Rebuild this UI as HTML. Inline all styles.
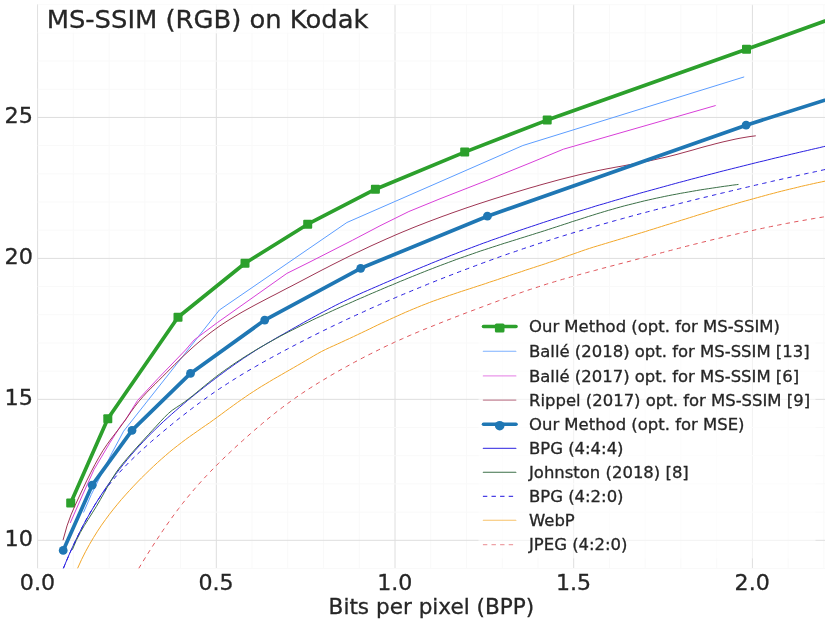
<!DOCTYPE html>
<html lang="en"><head><meta charset="utf-8"><title>MS-SSIM (RGB) on Kodak</title>
<style>
html,body{margin:0;padding:0;background:#fff;}
body{width:830px;height:624px;overflow:hidden;}
svg{display:block;}
text{font-family:"DejaVu Sans","Liberation Sans",sans-serif;fill:#262626;stroke:#262626;stroke-width:0.3px;}
.thin{fill:none;stroke-width:1.0;stroke-linejoin:round;}
.thick{fill:none;stroke-width:3.7;stroke-linejoin:round;stroke-linecap:butt;}
</style></head><body>
<svg width="830" height="624" viewBox="0 0 830 624">
<rect width="830" height="624" fill="#ffffff"/>
<defs><clipPath id="ax"><rect x="37.6" y="4.2" width="787.4" height="564.2"/></clipPath></defs>

<g fill="none" stroke-width="1">
<path stroke="#dedede" d="M37.60,4.2 V568.4"/>
<path stroke="#dedede" d="M216.30,4.2 V568.4"/>
<path stroke="#dedede" d="M395.00,4.2 V568.4"/>
<path stroke="#dedede" d="M573.70,4.2 V568.4"/>
<path stroke="#dedede" d="M752.40,4.2 V568.4"/>
<path stroke="#f9f9f9" d="M73.34,4.2 V568.4"/>
<path stroke="#f9f9f9" d="M109.08,4.2 V568.4"/>
<path stroke="#f9f9f9" d="M144.82,4.2 V568.4"/>
<path stroke="#f9f9f9" d="M180.56,4.2 V568.4"/>
<path stroke="#f9f9f9" d="M252.04,4.2 V568.4"/>
<path stroke="#f9f9f9" d="M287.78,4.2 V568.4"/>
<path stroke="#f9f9f9" d="M323.52,4.2 V568.4"/>
<path stroke="#f9f9f9" d="M359.26,4.2 V568.4"/>
<path stroke="#f9f9f9" d="M430.74,4.2 V568.4"/>
<path stroke="#f9f9f9" d="M466.48,4.2 V568.4"/>
<path stroke="#f9f9f9" d="M502.22,4.2 V568.4"/>
<path stroke="#f9f9f9" d="M537.96,4.2 V568.4"/>
<path stroke="#f9f9f9" d="M609.44,4.2 V568.4"/>
<path stroke="#f9f9f9" d="M645.18,4.2 V568.4"/>
<path stroke="#f9f9f9" d="M680.92,4.2 V568.4"/>
<path stroke="#f9f9f9" d="M716.66,4.2 V568.4"/>
<path stroke="#f9f9f9" d="M788.14,4.2 V568.4"/>
<path stroke="#f9f9f9" d="M823.88,4.2 V568.4"/>
<path stroke="#dedede" d="M37.6,540.30 H825.0"/>
<path stroke="#dedede" d="M37.6,399.35 H825.0"/>
<path stroke="#dedede" d="M37.6,258.40 H825.0"/>
<path stroke="#dedede" d="M37.6,117.45 H825.0"/>
<path stroke="#f9f9f9" d="M37.6,568.49 H825.0"/>
<path stroke="#f9f9f9" d="M37.6,512.11 H825.0"/>
<path stroke="#f9f9f9" d="M37.6,483.92 H825.0"/>
<path stroke="#f9f9f9" d="M37.6,455.73 H825.0"/>
<path stroke="#f9f9f9" d="M37.6,427.54 H825.0"/>
<path stroke="#f9f9f9" d="M37.6,371.16 H825.0"/>
<path stroke="#f9f9f9" d="M37.6,342.97 H825.0"/>
<path stroke="#f9f9f9" d="M37.6,314.78 H825.0"/>
<path stroke="#f9f9f9" d="M37.6,286.59 H825.0"/>
<path stroke="#f9f9f9" d="M37.6,230.21 H825.0"/>
<path stroke="#f9f9f9" d="M37.6,202.02 H825.0"/>
<path stroke="#f9f9f9" d="M37.6,173.83 H825.0"/>
<path stroke="#f9f9f9" d="M37.6,145.64 H825.0"/>
<path stroke="#f9f9f9" d="M37.6,89.26 H825.0"/>
<path stroke="#f9f9f9" d="M37.6,61.07 H825.0"/>
<path stroke="#f9f9f9" d="M37.6,32.88 H825.0"/>
<path stroke="#f9f9f9" d="M37.6,4.69 H825.0"/>
</g>
<g clip-path="url(#ax)">
<path class="thick" stroke="#2ca02c" d="M70.7,502.9 L107.8,418.7 L178.0,317.3 L245.0,263.2 L307.7,224.2 L375.4,189.2 L464.7,152.1 L547.2,120.1 L746.5,49.3 L840.0,15.7"/>
<rect x="66.2" y="498.4" width="9" height="9" rx="1" fill="#2ca02c"/>
<rect x="103.3" y="414.2" width="9" height="9" rx="1" fill="#2ca02c"/>
<rect x="173.5" y="312.8" width="9" height="9" rx="1" fill="#2ca02c"/>
<rect x="240.5" y="258.7" width="9" height="9" rx="1" fill="#2ca02c"/>
<rect x="303.2" y="219.7" width="9" height="9" rx="1" fill="#2ca02c"/>
<rect x="370.9" y="184.7" width="9" height="9" rx="1" fill="#2ca02c"/>
<rect x="460.2" y="147.6" width="9" height="9" rx="1" fill="#2ca02c"/>
<rect x="542.7" y="115.6" width="9" height="9" rx="1" fill="#2ca02c"/>
<rect x="742.0" y="44.8" width="9" height="9" rx="1" fill="#2ca02c"/>
<path class="thin" stroke="#5c9dff" d="M83.5,512.5 L91.3,494.5 L112.2,452.5 L123.6,431.2 L219.4,310.0 L346.9,222.5 L522.9,145.5 L744.2,76.9"/>
<path class="thin" stroke="#d83fd8" d="M70.2,523.0 L82.5,495.0 L94.1,469.4 L109.8,442.9 L121.4,424.7 L125.4,420.0 L137.5,400.5 L158.2,378.3 L185.5,350.0 L194.1,340.0 L217.5,322.5 L286.9,273.4 L310.0,261.9 L352.4,240.3 L380.0,225.8 L408.9,211.5 L440.0,198.8 L486.0,180.8 L530.0,163.0 L563.4,149.2 L715.7,105.5"/>
<path class="thin" stroke="#9e3553" d="M63.0,540.2 L67.0,525.9 L71.0,514.9 L75.0,505.6 L79.0,497.0 L83.0,488.5 L87.0,480.1 L91.0,472.1 L95.0,464.4 L99.0,457.2 L103.0,450.5 L107.0,444.5 L111.0,439.0 L115.0,433.8 L119.0,428.7 L123.0,423.3 L127.0,417.6 L131.0,411.8 L135.0,406.3 L139.0,401.2 L143.0,396.6 L147.0,392.2 L151.0,388.1 L155.0,384.2 L159.0,380.2 L163.0,376.2 L167.0,372.2 L171.0,368.2 L175.0,364.2 L179.0,360.3 L183.0,356.4 L187.0,352.7 L191.0,349.0 L195.0,345.4 L199.0,342.0 L203.0,338.6 L207.0,335.4 L211.0,332.3 L215.0,329.4 L219.0,326.5 L223.0,323.8 L227.0,321.2 L231.0,318.7 L235.0,316.3 L239.0,313.9 L243.0,311.6 L247.0,309.4 L251.0,307.2 L255.0,305.0 L259.0,302.9 L263.0,300.8 L267.0,298.7 L271.0,296.6 L275.0,294.6 L279.0,292.5 L283.0,290.4 L287.0,288.3 L291.0,286.3 L295.0,284.2 L299.0,282.1 L303.0,280.0 L307.0,277.9 L311.0,275.8 L315.0,273.7 L319.0,271.6 L323.0,269.5 L327.0,267.5 L331.0,265.4 L335.0,263.4 L339.0,261.4 L343.0,259.4 L347.0,257.4 L351.0,255.4 L355.0,253.5 L359.0,251.6 L363.0,249.7 L367.0,247.8 L371.0,245.9 L375.0,244.1 L379.0,242.3 L383.0,240.5 L387.0,238.7 L391.0,237.0 L395.0,235.2 L399.0,233.5 L403.0,231.8 L407.0,230.2 L411.0,228.5 L415.0,226.9 L419.0,225.3 L423.0,223.8 L427.0,222.2 L431.0,220.7 L435.0,219.2 L439.0,217.7 L443.0,216.2 L447.0,214.8 L451.0,213.3 L455.0,211.9 L459.0,210.5 L463.0,209.1 L467.0,207.7 L471.0,206.4 L475.0,205.0 L479.0,203.7 L483.0,202.4 L487.0,201.1 L491.0,199.8 L495.0,198.5 L499.0,197.3 L503.0,196.0 L507.0,194.8 L511.0,193.6 L515.0,192.4 L519.0,191.2 L523.0,190.0 L527.0,188.8 L531.0,187.6 L535.0,186.5 L539.0,185.3 L543.0,184.2 L547.0,183.1 L551.0,182.0 L555.0,180.9 L559.0,179.8 L563.0,178.8 L567.0,177.8 L571.0,176.8 L575.0,175.8 L579.0,174.8 L583.0,173.9 L587.0,173.0 L591.0,172.1 L595.0,171.3 L599.0,170.4 L603.0,169.6 L607.0,168.8 L611.0,168.1 L615.0,167.3 L619.0,166.6 L623.0,165.9 L627.0,165.1 L631.0,164.4 L635.0,163.6 L639.0,162.9 L643.0,162.1 L647.0,161.3 L651.0,160.5 L655.0,159.6 L659.0,158.7 L663.0,157.8 L667.0,156.9 L671.0,155.9 L675.0,154.9 L679.0,153.8 L683.0,152.7 L687.0,151.6 L691.0,150.5 L695.0,149.4 L699.0,148.2 L703.0,147.1 L707.0,146.0 L711.0,145.0 L715.0,143.9 L719.0,142.9 L723.0,141.9 L727.0,141.0 L731.0,140.1 L735.0,139.2 L739.0,138.4 L743.0,137.7 L747.0,137.0 L751.0,136.4 L755.0,135.9 L755.8,135.8"/>
<path class="thick" stroke="#1f77b4" d="M63.2,550.4 L92.2,485.2 L132.0,430.4 L190.5,373.4 L264.7,320.1 L360.7,268.3 L487.4,216.2 L746.1,125.2 L840.0,95.4"/>
<circle cx="63.2" cy="550.4" r="4.4" fill="#1f77b4"/>
<circle cx="92.2" cy="485.2" r="4.4" fill="#1f77b4"/>
<circle cx="132.0" cy="430.4" r="4.4" fill="#1f77b4"/>
<circle cx="190.5" cy="373.4" r="4.4" fill="#1f77b4"/>
<circle cx="264.7" cy="320.1" r="4.4" fill="#1f77b4"/>
<circle cx="360.7" cy="268.3" r="4.4" fill="#1f77b4"/>
<circle cx="487.4" cy="216.2" r="4.4" fill="#1f77b4"/>
<circle cx="746.1" cy="125.2" r="4.4" fill="#1f77b4"/>
<path class="thin" stroke="#2a20e0" d="M63.3,568.5 L67.3,558.8 L71.3,549.7 L75.3,541.1 L79.3,533.0 L83.3,525.2 L87.3,517.9 L91.3,510.9 L95.3,504.2 L99.3,497.8 L103.3,491.7 L107.3,485.8 L111.3,480.2 L115.3,474.7 L119.3,469.5 L123.3,464.4 L127.3,459.5 L131.3,454.8 L135.3,450.2 L139.3,445.8 L143.3,441.5 L147.3,437.3 L151.3,433.3 L155.3,429.3 L159.3,425.5 L163.3,421.7 L167.3,418.1 L171.3,414.5 L175.3,411.0 L179.3,407.5 L183.3,404.1 L187.3,400.7 L191.3,397.4 L195.3,394.2 L199.3,391.0 L203.3,387.8 L207.3,384.7 L211.3,381.6 L215.3,378.6 L219.3,375.5 L223.3,372.6 L227.3,369.6 L231.3,366.8 L235.3,363.9 L239.3,361.2 L243.3,358.4 L247.3,355.8 L251.3,353.2 L255.3,350.6 L259.3,348.1 L263.3,345.7 L267.3,343.3 L271.3,341.0 L275.3,338.6 L279.3,336.3 L283.3,334.1 L287.3,331.8 L291.3,329.5 L295.3,327.3 L299.3,325.0 L303.3,322.7 L307.3,320.5 L311.3,318.3 L315.3,316.1 L319.3,313.9 L323.3,311.8 L327.3,309.7 L331.3,307.6 L335.3,305.5 L339.3,303.5 L343.3,301.6 L347.3,299.7 L351.3,297.8 L355.3,295.9 L359.3,294.1 L363.3,292.3 L367.3,290.6 L371.3,288.8 L375.3,287.1 L379.3,285.4 L383.3,283.6 L387.3,281.9 L391.3,280.2 L395.3,278.4 L399.3,276.7 L403.3,275.0 L407.3,273.3 L411.3,271.6 L415.3,269.9 L419.3,268.3 L423.3,266.6 L427.3,265.0 L431.3,263.3 L435.3,261.7 L439.3,260.1 L443.3,258.5 L447.3,256.9 L451.3,255.3 L455.3,253.8 L459.3,252.2 L463.3,250.7 L467.3,249.2 L471.3,247.7 L475.3,246.2 L479.3,244.7 L483.3,243.2 L487.3,241.8 L491.3,240.3 L495.3,238.9 L499.3,237.5 L503.3,236.1 L507.3,234.7 L511.3,233.3 L515.3,231.9 L519.3,230.5 L523.3,229.2 L527.3,227.8 L531.3,226.5 L535.3,225.2 L539.3,223.8 L543.3,222.5 L547.3,221.2 L551.3,219.9 L555.3,218.6 L559.3,217.4 L563.3,216.1 L567.3,214.8 L571.3,213.6 L575.3,212.3 L579.3,211.1 L583.3,209.9 L587.3,208.7 L591.3,207.5 L595.3,206.2 L599.3,205.0 L603.3,203.9 L607.3,202.7 L611.3,201.5 L615.3,200.3 L619.3,199.2 L623.3,198.0 L627.3,196.8 L631.3,195.7 L635.3,194.6 L639.3,193.4 L643.3,192.3 L647.3,191.2 L651.3,190.1 L655.3,189.0 L659.3,187.9 L663.3,186.8 L667.3,185.7 L671.3,184.6 L675.3,183.5 L679.3,182.4 L683.3,181.4 L687.3,180.3 L691.3,179.2 L695.3,178.2 L699.3,177.1 L703.3,176.1 L707.3,175.0 L711.3,174.0 L715.3,173.0 L719.3,171.9 L723.3,170.9 L727.3,169.9 L731.3,168.9 L735.3,167.9 L739.3,166.9 L743.3,165.9 L747.3,164.9 L751.3,163.9 L755.3,162.9 L759.3,161.9 L763.3,161.0 L767.3,160.0 L771.3,159.0 L775.3,158.0 L779.3,157.1 L783.3,156.1 L787.3,155.2 L791.3,154.2 L795.3,153.3 L799.3,152.3 L803.3,151.4 L807.3,150.5 L811.3,149.5 L815.3,148.6 L819.3,147.7 L823.3,146.7 L825.2,146.3"/>
<path class="thin" stroke="#3c7048" d="M72.3,549.8 L76.3,540.4 L80.3,532.5 L84.3,525.6 L88.3,519.2 L92.3,512.9 L96.3,506.5 L100.3,499.7 L104.3,492.6 L108.3,485.3 L112.3,478.4 L116.3,472.2 L120.3,466.7 L124.3,461.7 L128.3,457.0 L132.3,452.4 L136.3,447.9 L140.3,443.5 L144.3,439.1 L148.3,434.8 L152.3,430.4 L156.3,426.1 L160.3,421.7 L164.3,417.5 L168.3,413.5 L172.3,410.2 L176.3,407.5 L180.3,404.9 L184.3,402.1 L188.3,399.1 L192.3,396.0 L196.3,392.7 L200.3,389.4 L204.3,386.1 L208.3,382.8 L212.3,379.6 L216.3,376.5 L220.3,373.5 L224.3,370.6 L228.3,367.8 L232.3,365.0 L236.3,362.3 L240.3,359.7 L244.3,357.1 L248.3,354.6 L252.3,352.2 L256.3,349.7 L260.3,347.4 L264.3,345.1 L268.3,342.8 L272.3,340.6 L276.3,338.4 L280.3,336.2 L284.3,334.1 L288.3,332.0 L292.3,330.0 L296.3,328.0 L300.3,326.0 L304.3,324.0 L308.3,322.1 L312.3,320.1 L316.3,318.2 L320.3,316.4 L324.3,314.5 L328.3,312.7 L332.3,310.8 L336.3,309.0 L340.3,307.2 L344.3,305.4 L348.3,303.7 L352.3,301.9 L356.3,300.1 L360.3,298.4 L364.3,296.7 L368.3,294.9 L372.3,293.2 L376.3,291.5 L380.3,289.8 L384.3,288.1 L388.3,286.4 L392.3,284.8 L396.3,283.1 L400.3,281.4 L404.3,279.8 L408.3,278.1 L412.3,276.5 L416.3,274.9 L420.3,273.3 L424.3,271.7 L428.3,270.1 L432.3,268.6 L436.3,267.0 L440.3,265.5 L444.3,264.0 L448.3,262.5 L452.3,261.0 L456.3,259.5 L460.3,258.1 L464.3,256.7 L468.3,255.3 L472.3,253.9 L476.3,252.5 L480.3,251.1 L484.3,249.8 L488.3,248.5 L492.3,247.2 L496.3,245.9 L500.3,244.6 L504.3,243.3 L508.3,242.1 L512.3,240.8 L516.3,239.6 L520.3,238.3 L524.3,237.1 L528.3,235.8 L532.3,234.6 L536.3,233.3 L540.3,232.1 L544.3,230.8 L548.3,229.5 L552.3,228.2 L556.3,226.9 L560.3,225.6 L564.3,224.3 L568.3,223.0 L572.3,221.6 L576.3,220.4 L580.3,219.1 L584.3,217.8 L588.3,216.5 L592.3,215.3 L596.3,214.0 L600.3,212.8 L604.3,211.6 L608.3,210.4 L612.3,209.3 L616.3,208.1 L620.3,207.0 L624.3,205.9 L628.3,204.9 L632.3,203.9 L636.3,202.9 L640.3,201.9 L644.3,200.9 L648.3,200.0 L652.3,199.1 L656.3,198.2 L660.3,197.4 L664.3,196.5 L668.3,195.7 L672.3,194.9 L676.3,194.2 L680.3,193.4 L684.3,192.7 L688.3,192.0 L692.3,191.3 L696.3,190.6 L700.3,189.9 L704.3,189.3 L708.3,188.7 L712.3,188.1 L716.3,187.5 L720.3,186.9 L724.3,186.3 L728.3,185.8 L732.3,185.2 L736.3,184.7 L738.5,184.4"/>
<path class="thin" stroke="#2a20e0" stroke-dasharray="4.4 4.2" d="M63.3,568.5 L67.3,559.1 L71.3,549.9 L75.3,541.2 L79.3,532.9 L83.3,525.0 L87.3,517.6 L91.3,510.7 L95.3,504.2 L99.3,498.1 L103.3,492.4 L107.3,487.0 L111.3,482.0 L115.3,477.2 L119.3,472.6 L123.3,468.3 L127.3,464.1 L131.3,460.1 L135.3,456.2 L139.3,452.4 L143.3,448.8 L147.3,445.2 L151.3,441.6 L155.3,438.2 L159.3,434.8 L163.3,431.4 L167.3,428.1 L171.3,424.8 L175.3,421.5 L179.3,418.3 L183.3,415.2 L187.3,412.1 L191.3,409.0 L195.3,406.0 L199.3,403.0 L203.3,400.1 L207.3,397.2 L211.3,394.4 L215.3,391.6 L219.3,388.9 L223.3,386.3 L227.3,383.7 L231.3,381.1 L235.3,378.6 L239.3,376.1 L243.3,373.7 L247.3,371.3 L251.3,369.0 L255.3,366.7 L259.3,364.4 L263.3,362.1 L267.3,359.9 L271.3,357.7 L275.3,355.5 L279.3,353.4 L283.3,351.2 L287.3,349.1 L291.3,347.0 L295.3,344.9 L299.3,342.8 L303.3,340.8 L307.3,338.7 L311.3,336.7 L315.3,334.7 L319.3,332.7 L323.3,330.7 L327.3,328.8 L331.3,326.8 L335.3,324.9 L339.3,323.0 L343.3,321.1 L347.3,319.2 L351.3,317.4 L355.3,315.5 L359.3,313.7 L363.3,311.9 L367.3,310.0 L371.3,308.2 L375.3,306.5 L379.3,304.7 L383.3,302.9 L387.3,301.2 L391.3,299.5 L395.3,297.7 L399.3,296.0 L403.3,294.3 L407.3,292.7 L411.3,291.0 L415.3,289.3 L419.3,287.7 L423.3,286.1 L427.3,284.4 L431.3,282.8 L435.3,281.2 L439.3,279.6 L443.3,278.0 L447.3,276.5 L451.3,274.9 L455.3,273.4 L459.3,271.8 L463.3,270.3 L467.3,268.8 L471.3,267.3 L475.3,265.8 L479.3,264.3 L483.3,262.8 L487.3,261.4 L491.3,259.9 L495.3,258.5 L499.3,257.0 L503.3,255.6 L507.3,254.2 L511.3,252.8 L515.3,251.5 L519.3,250.1 L523.3,248.7 L527.3,247.4 L531.3,246.1 L535.3,244.7 L539.3,243.4 L543.3,242.1 L547.3,240.9 L551.3,239.6 L555.3,238.3 L559.3,237.1 L563.3,235.8 L567.3,234.6 L571.3,233.4 L575.3,232.2 L579.3,231.0 L583.3,229.8 L587.3,228.6 L591.3,227.5 L595.3,226.3 L599.3,225.1 L603.3,224.0 L607.3,222.9 L611.3,221.7 L615.3,220.6 L619.3,219.5 L623.3,218.4 L627.3,217.3 L631.3,216.2 L635.3,215.1 L639.3,214.0 L643.3,213.0 L647.3,211.9 L651.3,210.9 L655.3,209.8 L659.3,208.8 L663.3,207.7 L667.3,206.7 L671.3,205.7 L675.3,204.6 L679.3,203.6 L683.3,202.6 L687.3,201.6 L691.3,200.6 L695.3,199.6 L699.3,198.6 L703.3,197.6 L707.3,196.7 L711.3,195.7 L715.3,194.7 L719.3,193.7 L723.3,192.8 L727.3,191.8 L731.3,190.9 L735.3,189.9 L739.3,189.0 L743.3,188.0 L747.3,187.1 L751.3,186.2 L755.3,185.2 L759.3,184.3 L763.3,183.4 L767.3,182.5 L771.3,181.5 L775.3,180.6 L779.3,179.7 L783.3,178.8 L787.3,177.9 L791.3,177.0 L795.3,176.1 L799.3,175.2 L803.3,174.3 L807.3,173.4 L811.3,172.6 L815.3,171.7 L819.3,170.8 L823.3,169.9 L825.2,169.5"/>
<path class="thin" stroke="#f2a72a" d="M77.5,568.5 L81.5,559.7 L85.5,551.7 L89.5,544.4 L93.5,537.6 L97.5,531.2 L101.5,525.2 L105.5,519.6 L109.5,514.2 L113.5,509.1 L117.5,504.2 L121.5,499.4 L125.5,494.9 L129.5,490.5 L133.5,486.2 L137.5,482.0 L141.5,477.9 L145.5,474.0 L149.5,470.1 L153.5,466.3 L157.5,462.6 L161.5,459.0 L165.5,455.5 L169.5,452.1 L173.5,448.8 L177.5,445.7 L181.5,442.6 L185.5,439.6 L189.5,436.7 L193.5,433.9 L197.5,431.1 L201.5,428.3 L205.5,425.5 L209.5,422.8 L213.5,419.9 L217.5,417.0 L221.5,414.1 L225.5,411.1 L229.5,408.2 L233.5,405.3 L237.5,402.4 L241.5,399.6 L245.5,396.8 L249.5,394.1 L253.5,391.5 L257.5,388.9 L261.5,386.4 L265.5,384.0 L269.5,381.6 L273.5,379.2 L277.5,376.9 L281.5,374.6 L285.5,372.3 L289.5,370.0 L293.5,367.7 L297.5,365.4 L301.5,363.1 L305.5,360.7 L309.5,358.4 L313.5,356.0 L317.5,353.7 L321.5,351.5 L325.5,349.5 L329.5,347.6 L333.5,345.8 L337.5,344.0 L341.5,342.2 L345.5,340.3 L349.5,338.5 L353.5,336.6 L357.5,334.7 L361.5,332.8 L365.5,330.9 L369.5,329.0 L373.5,327.0 L377.5,325.1 L381.5,323.2 L385.5,321.4 L389.5,319.5 L393.5,317.7 L397.5,315.9 L401.5,314.1 L405.5,312.3 L409.5,310.6 L413.5,308.9 L417.5,307.3 L421.5,305.6 L425.5,304.1 L429.5,302.5 L433.5,301.0 L437.5,299.6 L441.5,298.2 L445.5,296.8 L449.5,295.4 L453.5,294.1 L457.5,292.7 L461.5,291.4 L465.5,290.1 L469.5,288.8 L473.5,287.5 L477.5,286.2 L481.5,284.9 L485.5,283.6 L489.5,282.2 L493.5,280.9 L497.5,279.6 L501.5,278.2 L505.5,276.9 L509.5,275.5 L513.5,274.2 L517.5,272.9 L521.5,271.6 L525.5,270.2 L529.5,268.9 L533.5,267.6 L537.5,266.3 L541.5,265.0 L545.5,263.7 L549.5,262.3 L553.5,261.0 L557.5,259.6 L561.5,258.1 L565.5,256.7 L569.5,255.3 L573.5,253.9 L577.5,252.5 L581.5,251.1 L585.5,249.7 L589.5,248.4 L593.5,247.1 L597.5,245.9 L601.5,244.7 L605.5,243.5 L609.5,242.3 L613.5,241.1 L617.5,239.9 L621.5,238.7 L625.5,237.5 L629.5,236.3 L633.5,235.1 L637.5,233.9 L641.5,232.7 L645.5,231.5 L649.5,230.2 L653.5,229.0 L657.5,227.7 L661.5,226.5 L665.5,225.2 L669.5,224.0 L673.5,222.7 L677.5,221.5 L681.5,220.2 L685.5,219.0 L689.5,217.7 L693.5,216.5 L697.5,215.2 L701.5,214.0 L705.5,212.8 L709.5,211.5 L713.5,210.3 L717.5,209.1 L721.5,207.9 L725.5,206.7 L729.5,205.5 L733.5,204.4 L737.5,203.2 L741.5,202.0 L745.5,200.9 L749.5,199.8 L753.5,198.7 L757.5,197.6 L761.5,196.5 L765.5,195.4 L769.5,194.3 L773.5,193.3 L777.5,192.2 L781.5,191.2 L785.5,190.2 L789.5,189.2 L793.5,188.3 L797.5,187.3 L801.5,186.3 L805.5,185.4 L809.5,184.5 L813.5,183.6 L817.5,182.7 L821.5,181.9 L825.2,181.1"/>
<path class="thin" stroke="#e0565c" stroke-dasharray="4.4 4.2" stroke-width="0.95" d="M138.7,568.5 L142.7,561.9 L146.7,555.5 L150.7,549.1 L154.7,542.9 L158.7,536.8 L162.7,530.8 L166.7,525.0 L170.7,519.3 L174.7,513.8 L178.7,508.5 L182.7,503.3 L186.7,498.3 L190.7,493.5 L194.7,488.8 L198.7,484.2 L202.7,479.8 L206.7,475.5 L210.7,471.3 L214.7,467.2 L218.7,463.2 L222.7,459.2 L226.7,455.4 L230.7,451.6 L234.7,447.9 L238.7,444.2 L242.7,440.6 L246.7,437.0 L250.7,433.5 L254.7,430.0 L258.7,426.6 L262.7,423.2 L266.7,419.8 L270.7,416.6 L274.7,413.4 L278.7,410.2 L282.7,407.2 L286.7,404.2 L290.7,401.3 L294.7,398.4 L298.7,395.6 L302.7,392.9 L306.7,390.3 L310.7,387.7 L314.7,385.2 L318.7,382.7 L322.7,380.3 L326.7,377.9 L330.7,375.5 L334.7,373.2 L338.7,370.9 L342.7,368.7 L346.7,366.5 L350.7,364.3 L354.7,362.1 L358.7,360.0 L362.7,357.9 L366.7,355.8 L370.7,353.8 L374.7,351.8 L378.7,349.8 L382.7,347.8 L386.7,345.9 L390.7,344.1 L394.7,342.2 L398.7,340.4 L402.7,338.6 L406.7,336.8 L410.7,335.1 L414.7,333.4 L418.7,331.7 L422.7,330.0 L426.7,328.4 L430.7,326.8 L434.7,325.2 L438.7,323.6 L442.7,322.0 L446.7,320.4 L450.7,318.9 L454.7,317.3 L458.7,315.8 L462.7,314.2 L466.7,312.7 L470.7,311.2 L474.7,309.7 L478.7,308.2 L482.7,306.7 L486.7,305.2 L490.7,303.7 L494.7,302.2 L498.7,300.7 L502.7,299.2 L506.7,297.7 L510.7,296.3 L514.7,294.8 L518.7,293.4 L522.7,292.0 L526.7,290.6 L530.7,289.3 L534.7,288.0 L538.7,286.7 L542.7,285.4 L546.7,284.1 L550.7,282.9 L554.7,281.7 L558.7,280.5 L562.7,279.3 L566.7,278.2 L570.7,277.0 L574.7,275.9 L578.7,274.8 L582.7,273.7 L586.7,272.6 L590.7,271.5 L594.7,270.5 L598.7,269.4 L602.7,268.3 L606.7,267.3 L610.7,266.2 L614.7,265.2 L618.7,264.1 L622.7,263.1 L626.7,262.0 L630.7,261.0 L634.7,259.9 L638.7,258.8 L642.7,257.8 L646.7,256.7 L650.7,255.7 L654.7,254.6 L658.7,253.5 L662.7,252.5 L666.7,251.4 L670.7,250.4 L674.7,249.3 L678.7,248.3 L682.7,247.3 L686.7,246.2 L690.7,245.2 L694.7,244.2 L698.7,243.2 L702.7,242.2 L706.7,241.2 L710.7,240.2 L714.7,239.2 L718.7,238.3 L722.7,237.3 L726.7,236.3 L730.7,235.4 L734.7,234.5 L738.7,233.5 L742.7,232.6 L746.7,231.7 L750.7,230.9 L754.7,230.0 L758.7,229.1 L762.7,228.3 L766.7,227.4 L770.7,226.6 L774.7,225.8 L778.7,225.0 L782.7,224.2 L786.7,223.4 L790.7,222.7 L794.7,221.9 L798.7,221.2 L802.7,220.5 L806.7,219.8 L810.7,219.1 L814.7,218.4 L818.7,217.7 L822.7,217.1 L825.2,216.7"/>
</g>
<rect x="38.2" y="4.7" width="355.5" height="28.2" fill="#ffffff" fill-opacity="0.75"/>
<text transform="translate(46.63,28.20) scale(1.029,1)" font-size="25.1" text-anchor="start">MS-SSIM (RGB) on Kodak</text>
<rect x="478.5" y="315.4" width="337" height="243" fill="#ffffff" fill-opacity="0.6"/>
<path d="M483.5,326.50 H516" stroke="#2ca02c" stroke-width="3.6" stroke-linecap="round" fill="none"/>
<rect x="494.9" y="323.40" width="9.6" height="9" rx="1.5" fill="#2ca02c"/>
<text transform="translate(529.00,332.20) scale(1.042,1)" font-size="15.8" text-anchor="start">Our Method (opt. for MS-SSIM)</text>
<path d="M483.3,351.30 H515.9" stroke="#5c9dff" stroke-width="1.1" stroke-opacity="0.8" stroke-linecap="round" fill="none"/>
<text transform="translate(529.00,357.00) scale(1.042,1)" font-size="15.8" text-anchor="start">Ballé (2018) opt. for MS-SSIM [13]</text>
<path d="M483.3,375.90 H515.9" stroke="#d83fd8" stroke-width="1.1" stroke-opacity="0.55" stroke-linecap="round" fill="none"/>
<text transform="translate(529.00,381.60) scale(1.042,1)" font-size="15.8" text-anchor="start">Ballé (2017) opt. for MS-SSIM [6]</text>
<path d="M483.3,400.10 H515.9" stroke="#9e3553" stroke-width="1.1" stroke-opacity="0.6" stroke-linecap="round" fill="none"/>
<text transform="translate(529.00,405.80) scale(1.042,1)" font-size="15.8" text-anchor="start">Rippel (2017) opt. for MS-SSIM [9]</text>
<path d="M483.5,424.30 H516" stroke="#1f77b4" stroke-width="3.6" stroke-linecap="round" fill="none"/>
<circle cx="499.7" cy="425.70" r="4.8" fill="#1f77b4"/>
<text transform="translate(529.00,430.00) scale(1.042,1)" font-size="15.8" text-anchor="start">Our Method (opt. for MSE)</text>
<path d="M483.3,448.40 H515.9" stroke="#2a20e0" stroke-width="1.1" stroke-opacity="0.8" stroke-linecap="round" fill="none"/>
<text transform="translate(529.00,454.10) scale(1.042,1)" font-size="15.8" text-anchor="start">BPG (4:4:4)</text>
<path d="M483.3,472.20 H515.9" stroke="#3c7048" stroke-width="1.1" stroke-opacity="1" stroke-linecap="round" fill="none"/>
<text transform="translate(529.00,477.90) scale(1.042,1)" font-size="15.8" text-anchor="start">Johnston (2018) [8]</text>
<path d="M482.9,496.40 H516.6" stroke="#2a20e0" stroke-width="1.1" stroke-opacity="0.85" fill="none" stroke-dasharray="4.4 4.2"/>
<text transform="translate(529.00,502.10) scale(1.042,1)" font-size="15.8" text-anchor="start">BPG (4:2:0)</text>
<path d="M483.3,520.30 H515.9" stroke="#f2a72a" stroke-width="1.1" stroke-opacity="0.7" stroke-linecap="round" fill="none"/>
<text transform="translate(529.00,526.00) scale(1.042,1)" font-size="15.8" text-anchor="start">WebP</text>
<path d="M482.9,544.60 H516.6" stroke="#e0565c" stroke-width="1.1" stroke-opacity="0.55" fill="none" stroke-dasharray="4.4 4.2"/>
<text transform="translate(529.00,550.30) scale(1.042,1)" font-size="15.8" text-anchor="start">JPEG (4:2:0)</text>
<text transform="translate(37.40,589.80) scale(1.015,1)" font-size="21.8" text-anchor="middle">0.0</text>
<text transform="translate(216.10,589.80) scale(1.015,1)" font-size="21.8" text-anchor="middle">0.5</text>
<text transform="translate(394.80,589.80) scale(1.015,1)" font-size="21.8" text-anchor="middle">1.0</text>
<text transform="translate(573.50,589.80) scale(1.015,1)" font-size="21.8" text-anchor="middle">1.5</text>
<text transform="translate(752.20,589.80) scale(1.015,1)" font-size="21.8" text-anchor="middle">2.0</text>
<text transform="translate(33.00,546.10) scale(1.025,1)" font-size="21.8" text-anchor="end">10</text>
<text transform="translate(33.00,405.15) scale(1.025,1)" font-size="21.8" text-anchor="end">15</text>
<text transform="translate(33.00,264.20) scale(1.025,1)" font-size="21.8" text-anchor="end">20</text>
<text transform="translate(33.00,123.25) scale(1.025,1)" font-size="21.8" text-anchor="end">25</text>
<text transform="translate(431.40,614.10) scale(1.028,1)" font-size="21.0" text-anchor="middle">Bits per pixel (BPP)</text>
</svg></body></html>
